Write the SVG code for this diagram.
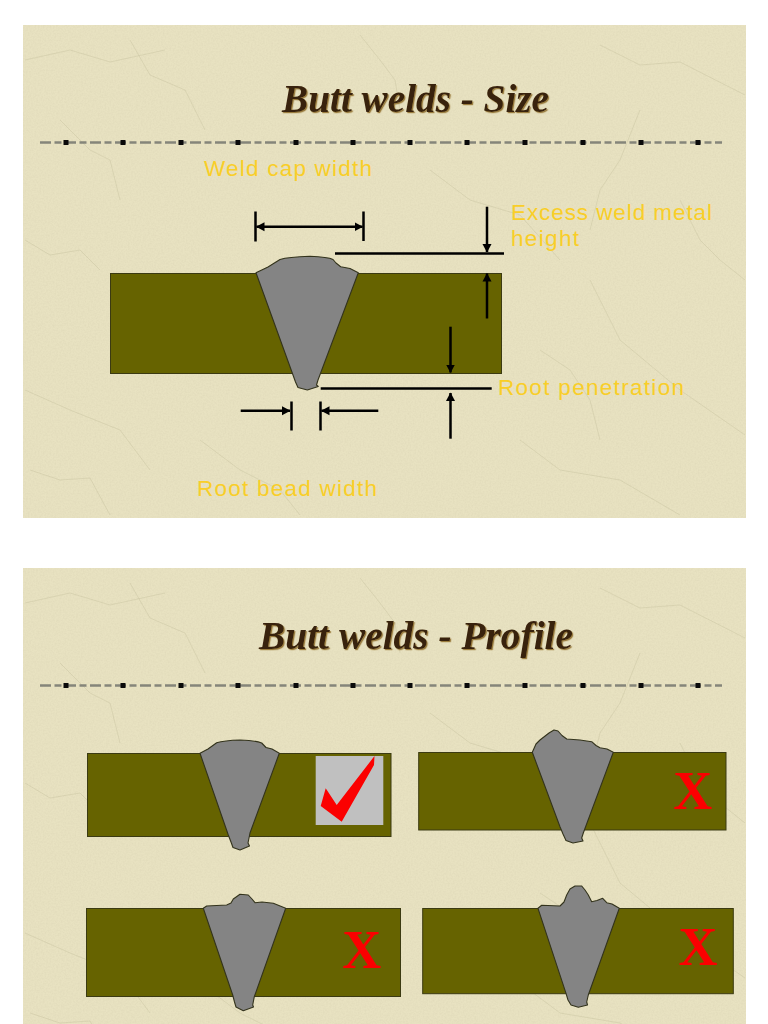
<svg xmlns="http://www.w3.org/2000/svg" width="768" height="1024" viewBox="0 0 768 1024">
<style>
.slide{fill:#e8e2c1}
.crack{fill:none;stroke:#c4bd9c;stroke-width:.8;opacity:.5}
.title{font-family:"Liberation Serif","Times New Roman",serif;font-weight:bold;font-style:italic;font-size:41px;fill:#38200a;filter:url(#emboss)}
.label{font-family:"Liberation Sans",Arial,sans-serif;font-size:22.500px;fill:#f9ce28}
.plate{fill:#666300;stroke:#3b3a12;stroke-width:1}
.weld{fill:#848484;stroke:#33331c;stroke-width:1.100;stroke-linejoin:round}
.x{font-family:"Liberation Serif","Times New Roman",serif;font-weight:bold;font-size:54px;fill:#fb0000;text-anchor:middle}
.rule{stroke:#85857a;stroke-width:2.600;stroke-dasharray:11 3.500 7 3.500}
.dot{fill:#0a0a0a}
.dim{stroke:#000;stroke-width:2.500;fill:none}
.head{stroke:#000;stroke-width:2.500;fill:none;marker-end:url(#arr)}
.both{stroke:#000;stroke-width:2.500;fill:none;marker-start:url(#arrs);marker-end:url(#arr)}
</style>
<defs>
<marker id="arr" markerWidth="9" markerHeight="10" refX="8" refY="5" orient="auto" markerUnits="userSpaceOnUse"><path d="M0 0.500L8.500 5L0 9.500Z" fill="#000"/></marker>
<marker id="arrs" markerWidth="9" markerHeight="10" refX="1" refY="5" orient="auto" markerUnits="userSpaceOnUse"><path d="M9 0.500L0.500 5L9 9.500Z" fill="#000"/></marker>
<filter id="emboss" x="-5%" y="-20%" width="110%" height="140%"><feDropShadow dx="1.200" dy="1.200" stdDeviation=".4" flood-color="#9a7c3c"/></filter>
<filter id="paper" x="0" y="0" width="100%" height="100%"><feTurbulence type="fractalNoise" baseFrequency=".6" numOctaves="3" seed="4"/><feColorMatrix values="0 0 0 0 .6 0 0 0 0 .55 0 0 0 0 .38 0 0 0 .4 -.13"/></filter>
<g id="rule"><line class="rule" x1="40" y1="0" x2="722" y2="0"/>
<g class="dot"><rect x="63.500" y="-2.500" width="5" height="5"/><rect x="120.500" y="-2.500" width="5" height="5"/><rect x="178.500" y="-2.500" width="5" height="5"/><rect x="235.500" y="-2.500" width="5" height="5"/><rect x="293.500" y="-2.500" width="5" height="5"/><rect x="350.500" y="-2.500" width="5" height="5"/><rect x="407.500" y="-2.500" width="5" height="5"/><rect x="464.500" y="-2.500" width="5" height="5"/><rect x="522.500" y="-2.500" width="5" height="5"/><rect x="580.500" y="-2.500" width="5" height="5"/><rect x="638.500" y="-2.500" width="5" height="5"/><rect x="695.500" y="-2.500" width="5" height="5"/></g></g>
<g id="cracks"><path class="crack" d="M25 60L70 50L110 62L165 50M130 40L150 75L185 90L205 130M360 35L380 60L395 80L400 110M600 45L640 65L680 62L745 95M60 120L90 150L110 160L120 200M430 170L470 200L520 215L560 260M590 280L620 340L680 390L745 435M25 390L70 410L120 430L150 470M200 440L240 470L280 490L300 515M520 440L560 470L620 480L680 515M640 110L620 160L600 190L590 230M25 240L50 255L80 250L100 270M540 350L570 370L590 400L600 440M680 200L700 240L720 260L745 280M30 470L60 480L90 478L110 515"/></g>
</defs>
<rect width="768" height="1024" fill="#fff"/>
<g id="slide-1">
<rect class="slide" x="23" y="25" width="723" height="493"/>
<rect x="23" y="25" width="723" height="493" filter="url(#paper)"/>
<use href="#cracks"/>
<text class="title" x="282" y="112" textLength="267" lengthAdjust="spacingAndGlyphs">Butt welds - Size</text>
<use href="#rule" y="142.500"/>
</g>
<g id="slide-2">
<rect class="slide" x="23" y="568" width="723" height="456"/>
<rect x="23" y="568" width="723" height="456" filter="url(#paper)"/>
<use href="#cracks" y="543"/>
<text class="title" x="259" y="649" textLength="314" lengthAdjust="spacingAndGlyphs">Butt welds - Profile</text>
<use href="#rule" y="685.500"/>
</g>
<g id="size-plate"><rect class="plate" x="110.500" y="273.500" width="391" height="100"/></g>
<g id="size-weld"><path class="weld" d="M256 272.700L268 267L280 259.500Q288 257 310 256.300Q328 257 333 259.500L336 263L340.700 266.700L350 268.500L358.300 272.700L318 380L316.500 385L318.300 386.500L307.300 390L298 387.500L295.500 382L293 375Z"/></g>
<g id="connectors">
<path class="dim" d="M255.500 211.500V241.500M363.500 211.500V241M335 253.500H504M320.700 388.500H491.700M291.500 401.500V430.500M320.500 401.500V430.500"/>
<path class="both" d="M256.500 226.700H362.500"/>
<path class="head" d="M487 206.700V252"/>
<path class="head" d="M487 318.500V273.500"/>
<path class="head" d="M450.500 326.700V372.500"/>
<path class="head" d="M450.500 438.700V393"/>
<path class="head" d="M240.700 410.700H290"/>
<path class="head" d="M378.300 410.700H321.500"/>
</g>
<g id="label-cap"><text class="label" x="204" y="176" textLength="168" lengthAdjust="spacing">Weld cap width</text></g>
<g id="label-excess"><text class="label" x="511" y="220" textLength="201" lengthAdjust="spacing">Excess weld metal</text><text class="label" x="511" y="246" textLength="68" lengthAdjust="spacing">height</text></g>
<g id="label-root"><text class="label" x="498" y="395" textLength="186" lengthAdjust="spacing">Root penetration</text></g>
<g id="label-bead"><text class="label" x="197" y="496" textLength="180" lengthAdjust="spacing">Root bead width</text></g>
<g id="profile-good">
<rect class="plate" x="87.500" y="753.500" width="303.500" height="83"/>
<path class="weld" d="M200 753.300L208 749L216.700 742.700Q224 740.500 240 740Q255 740.500 261.700 743L266 747.500L272 749L279.300 753.300L250 833L248 843L249.500 846L240 850L233 847.500L231 842L228.300 835Z"/>
<rect x="315.700" y="756" width="67.600" height="69" fill="#c0c0c0"/>
<path d="M374.500 756L374 765L341.700 821.700L320.700 806L325.700 788.300L336.700 805Z" fill="#fb0000"/>
</g>
<g id="profile-high-left">
<rect class="plate" x="418.700" y="752.500" width="307.300" height="77.500"/>
<path class="weld" d="M532.300 752.300L536 744L540 740L549 733L554 730L558 731L562 735.500L566.700 739L580 740L591.700 741.700L596 745.500L600 747.700L607 749L613.300 752.300L583.300 833L581.700 838L583 841L573 843L566 840.500L563 834L560 826.700Z"/>
<text class="x" x="692.700" y="809.300">X</text>
</g>
<g id="profile-peak">
<rect class="plate" x="86.500" y="908.500" width="314" height="88"/>
<path class="weld" d="M203.300 908.300L206.700 906L226.700 905L231 903L233.300 899L240 894.300L248.300 895L252 899L255 902.700L262 902L273.300 903.300L285.700 908.300L254.300 996.700L252.700 1005L253.500 1007L243.300 1010.700L236 1007L234.500 1002L232.700 995Z"/>
<text class="x" x="361.700" y="967.700">X</text>
</g>
<g id="profile-tall">
<rect class="plate" x="422.700" y="908.500" width="310.600" height="85.200"/>
<path class="weld" d="M538 908.300L541.700 905.300L560 906L564 902L566.700 895L570 889L575 886L581.700 886L585 890L588.300 895L591.700 901.700L597 900.500L602.700 898.300L606.700 902.700L612 904L619.300 908.300L588.300 995L586.700 1002L587.500 1005L578.300 1007.300L571 1005L568 1000L566 993.300Z"/>
<text class="x" x="698" y="965">X</text>
</g>
</svg>
